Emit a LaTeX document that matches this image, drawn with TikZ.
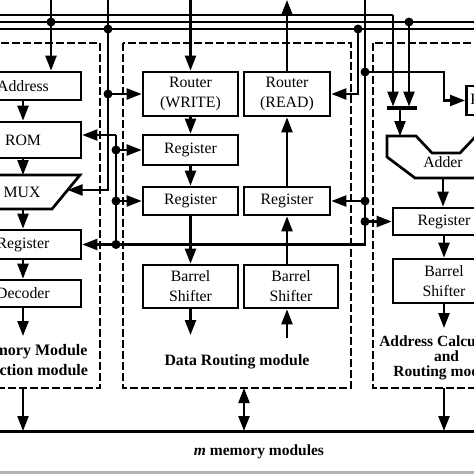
\documentclass[tikz,border=0pt]{standalone}
\usepackage{fontspec}
\setmainfont{Liberation Serif}
\usetikzlibrary{arrows.meta}
\begin{document}
\begin{tikzpicture}[x=1pt,y=-1pt,
  line width=2.3pt,
  >={Triangle[length=15pt,width=11pt]},
  blk/.style={draw, line width=2.7pt, inner sep=0pt, align=center, font=\fontsize{15.8}{20}\selectfont},
  modbox/.style={draw, line width=2.2pt, dash pattern=on 8pt off 3pt},
  jdot/.style={circle, fill, inner sep=0pt, minimum size=9pt},
  lbl/.style={font=\bfseries\fontsize{15.8}{20}\selectfont, align=center}
]
\useasboundingbox (0,0) rectangle (474,474);

% module frames
\draw[modbox] (-10,43) rectangle (100,388);
\draw[modbox] (123,43) rectangle (351,388);
\draw[modbox] (373,43) rectangle (495,388);

% left column
\node[blk, minimum width=116pt, minimum height=28pt] (addr) at (23,86) {Address};
\node[blk, minimum width=116pt, minimum height=36pt] (rom) at (23,140) {ROM};
\draw[line width=2.7pt] (-35,175) -- (80,175) -- (52,209) -- (-35,209) -- cycle;
\node[font=\fontsize{15.8}{20}\selectfont] (mux) at (22,192) {MUX};
\coordinate (muxN) at (23,175);
\coordinate (muxS) at (23,209);
\coordinate (muxE) at (67.6,190);
\node[blk, minimum width=116pt, minimum height=29pt] (lreg) at (23,244.5) {Register};
\node[blk, minimum width=116pt, minimum height=27pt] (dec) at (23,293.5) {Decoder};

% middle columns
\node[blk, minimum width=95pt, minimum height=44pt] (rw) at (190.5,94) {Router\\(WRITE)};
\node[blk, minimum width=95pt, minimum height=30pt] (r1) at (190.5,150) {Register};
\node[blk, minimum width=95pt, minimum height=28pt] (r2) at (190.5,201) {Register};
\node[blk, minimum width=95pt, minimum height=43pt] (bs1) at (190.5,286.5) {Barrel\\Shifter};
\node[blk, minimum width=86pt, minimum height=44pt] (rr) at (287,94) {Router\\(READ)};
\node[blk, minimum width=86pt, minimum height=28pt] (r3) at (287,201) {Register};
\node[blk, minimum width=94pt, minimum height=43pt] (bs2) at (291,286.5) {Barrel\\Shifter};

% right column
\draw[line width=2.7pt] (387,136) -- (416,136) -- (432,153) -- (460,153) -- (476,136) -- (505,136)
  -- (505,157) -- (477,178) -- (415,178) -- (387,157) -- cycle;
\node[font=\fontsize{15.8}{20}\selectfont] (adder) at (443,162) {Adder};
\coordinate (addN) at (400,136);
\coordinate (addS) at (443,178);
\node[blk, minimum width=102pt, minimum height=27pt] (r4) at (444,221.5) {Register};
\node[blk, minimum width=102pt, minimum height=44pt] (bs3) at (444,281) {Barrel\\Shifter};
\node[blk, minimum height=29pt, inner xsep=4pt, anchor=west] (rbox) at (465,100.5) {Register};

% top bus lines
\coordinate (h1L) at (0,15);  \coordinate (h1R) at (393,15);
\coordinate (h2L) at (0,22);  \coordinate (h2R) at (474,22);
\coordinate (h3L) at (0,29);  \coordinate (h3R) at (474,29);
\draw (h1L) -- (h1R);
\draw (h2L) -- (h2R);
\draw (h3L) -- (h3R);

% top verticals
\coordinate (tA) at (51,0);
\coordinate (tB) at (108,0);
\coordinate (tC) at (190.5,0);
\coordinate (tD) at (287,0);
\coordinate (tE) at (365,0);
\coordinate (j358) at (358,29);
\coordinate (j409) at (409,22);

% bar and inputs
\coordinate (barL) at (387,108); \coordinate (barR) at (417,108); \coordinate (barC) at (400,108);
\draw[line width=3.8pt] (barL) -- (barR);
\draw[->, shorten >=1.5pt] (h1R) -- (h1R |- barL);
\draw[->, shorten >=1.5pt] (j409) -- (j409 |- barL);
\node[jdot] at (j409) {};
\draw[->] (barC) -- (addN);

\draw[->] (tA) -- (tA |- addr.north);
\node[jdot] at (tA |- h2L) {};
\draw[->] (tB) |- (muxE);
\node[jdot] at (tB |- h3L) {};
\draw[->] (tB |- rw.west) -- (rw.west);
\node[jdot] at (tB |- rw.west) {};
\draw[->] (tC) -- (rw.north);
\draw[->] (rr.north) -- (tD);
\draw[->] (j358) |- (rr.east);
\node[jdot] at (j358) {};

\coordinate (j72) at (365,72);
\coordinate (k72) at (444,72);
\draw[->] (tE) |- (lreg.east);
\node[jdot] at (j72) {};
\draw[->] (j72) -- (k72) |- (rbox.west);
\draw[->] (tE |- r3.east) -- (r3.east);
\node[jdot] at (tE |- r3.east) {};
\draw[->] (tE |- r4.west) -- (r4.west);
\node[jdot] at (tE |- r4.west) {};

% x=116 line
\coordinate (c116) at (116,135);
\draw[->] (c116) -- (c116 -| rom.east);
\draw (c116) -- (c116 |- lreg.east);
\draw[->] (c116 |- r1.west) -- (r1.west);
\node[jdot] at (c116 |- r1.west) {};
\draw[->] (c116 |- r2.west) -- (r2.west);
\node[jdot] at (c116 |- r2.west) {};
\node[jdot] at (c116 |- lreg.east) {};

% column arrows
\draw[->] (addr.south) -- (rom.north);
\draw[->] (rom.south) -- (muxN);
\draw[->] (muxS) -- (lreg.north);
\draw[->] (lreg.south) -- (dec.north);
\coordinate (decOut) at (23,336);
\draw[->] (dec.south) -- (decOut);

\draw[->] (rw.south) -- (r1.north);
\draw[->] (r1.south) -- (r2.north);
\draw[->] (r2.south) -- (bs1.north);
\coordinate (bs1Out) at (190.5,335);
\draw[->] (bs1.south) -- (bs1Out);

\draw[->] (r3.south |- bs2.north) -- (r3.south);
\draw[->] (r3.north) -- (rr.south);
\coordinate (bs2In) at (287,338);
\draw[->] (bs2In) -- (bs2In |- bs2.south);

\draw[->] (addS) -- (addS |- r4.north);
\draw[->] (r4.south) -- (bs3.north);
\coordinate (bs3Out) at (444,328);
\draw[->] (bs3.south) -- (bs3Out);

% module labels
\node[lbl, font=\bfseries\fontsize{16}{20}\selectfont] (lblL) at (30,360) {Memory Module\\Selection module};
\node[lbl] (lblM) at (237,362) {Data Routing module};
\node[lbl, font=\bfseries\fontsize{15.5}{15}\selectfont] (lblR) at (446.5,358) {Address Calculation\\and\\Routing module};

% memory bus
\coordinate (busL) at (0,431); \coordinate (busR) at (474,431);
\draw[line width=3pt] (busL) -- (busR);
\coordinate (mL) at (23,388); \coordinate (mM) at (244,388); \coordinate (mR) at (444,388);
\draw[->] (mL) -- (mL |- busL);
\draw[<->] (mM) -- (mM |- busL);
\draw[->] (mR) -- (mR |- busL);
\node[font=\bfseries\fontsize{15.5}{20}\selectfont] (mem) at (259,452) {\textit{m} memory modules};

\fill[gray!60] (0,471) rectangle (474,474);
\end{tikzpicture}
\end{document}
